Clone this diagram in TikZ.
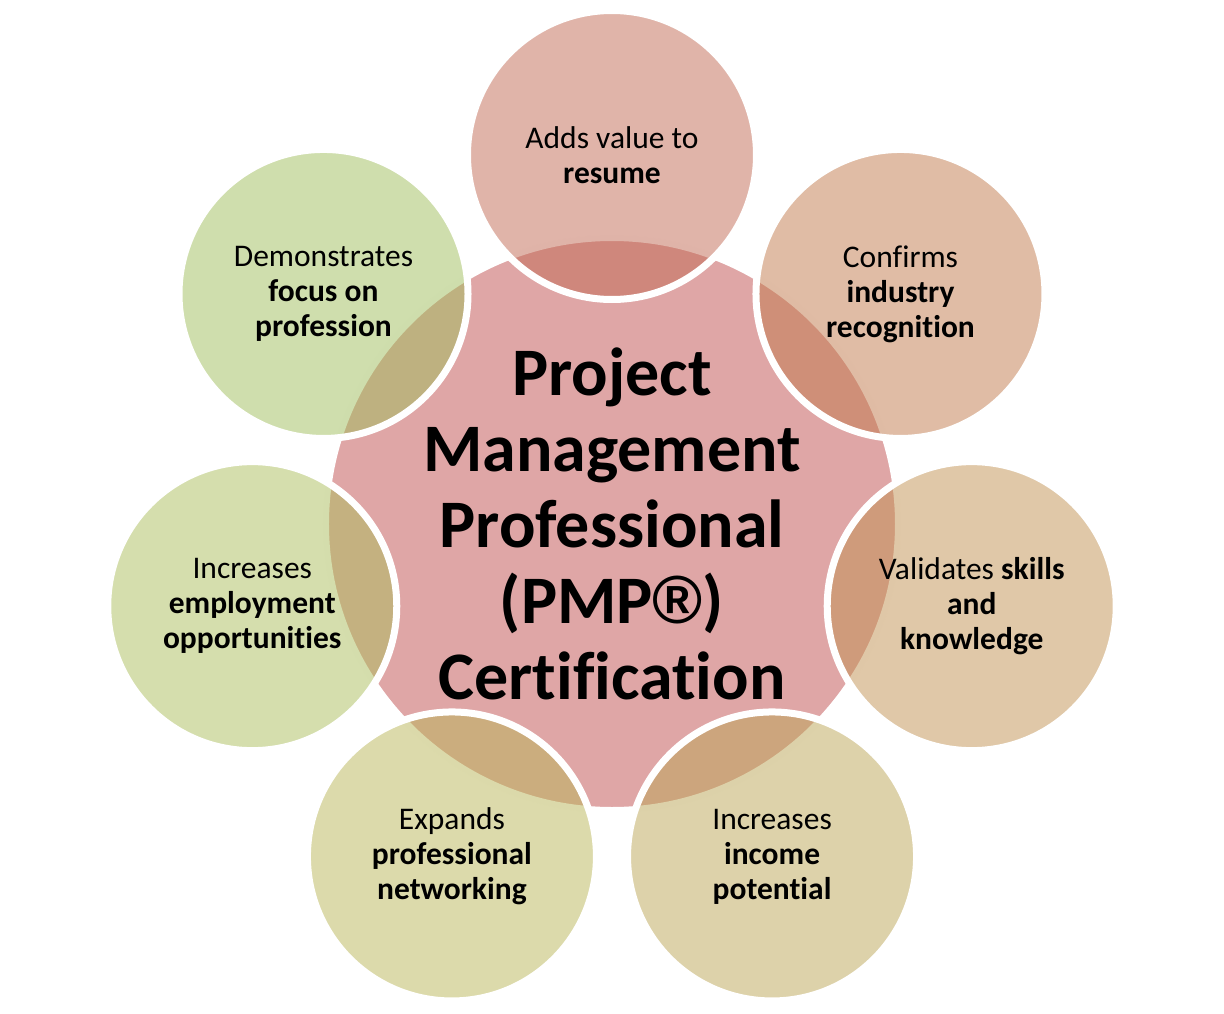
\documentclass[tikz,border=0pt]{standalone}
\usepackage{fontspec}
\setmainfont{Carlito}[Ligatures=NoCommon]
\newfontfamily\regmark{Liberation Sans}

\definecolor{coreRose}{RGB}{223,166,166}
\definecolor{resumeTone}{RGB}{193,105,83}
\definecolor{industryTone}{RGB}{193,121,75}
\definecolor{skillsTone}{RGB}{193,145,81}
\definecolor{incomeTone}{RGB}{187,165,85}
\definecolor{networkTone}{RGB}{185,181,87}
\definecolor{employTone}{RGB}{171,189,91}
\definecolor{focusTone}{RGB}{159,189,91}

\tikzset{
    petal/.style={draw=white, line width=7pt, fill opacity=0.5, draw opacity=1},
    petaltext/.style={align=center, font=\fontsize{31.5}{35}\selectfont},
    coretext/.style={align=center, font=\fontsize{68}{76}\selectfont\bfseries},
}

\begin{document}
\begin{tikzpicture}[x=1pt, y=1pt]
    \useasboundingbox (-612,-489) rectangle (612,524);
    \coordinate (core) at (0,0);
    \coordinate (a) at (90:369pt); \coordinate (b) at (38.57:369pt);
    \coordinate (c) at (-12.86:369pt); \coordinate (d) at (-64.29:369pt);
    \coordinate (e) at (-115.71:369pt); \coordinate (f) at (-167.14:369pt);
    \coordinate (g) at (141.43:369pt);

    \draw[white, line width=6pt, fill=coreRose] (core) circle (286pt);

    \foreach \p/\col in {a/resumeTone,b/industryTone,c/skillsTone,d/incomeTone,e/networkTone,f/employTone,g/focusTone}
        \draw[petal, fill=\col] (\p) circle (144.5pt);

    \node[petaltext] (resume) at (a) {Adds value to\\\textbf{resume}};
    \node[petaltext] (industry) at (b) {Confirms\\\textbf{industry}\\\textbf{recognition}};
    \node[petaltext] (skills) at (c) {Validates \textbf{skills}\\\textbf{and}\\\textbf{knowledge}};
    \node[petaltext] (income) at (d) {Increases\\\textbf{income}\\\textbf{potential}};
    \node[petaltext] (network) at (e) {Expands\\\textbf{professional}\\\textbf{networking}};
    \node[petaltext] (employ) at (f) {Increases\\\textbf{employment}\\\textbf{opportunities}};
    \node[petaltext] (focus) at (g) {Demonstrates\\\textbf{focus on}\\\textbf{profession}};

    \node[coretext] (pmp) at (core) {Project\\Management\\Professional\\(PMP{\regmark ®})\\Certification};
\end{tikzpicture}
\end{document}
